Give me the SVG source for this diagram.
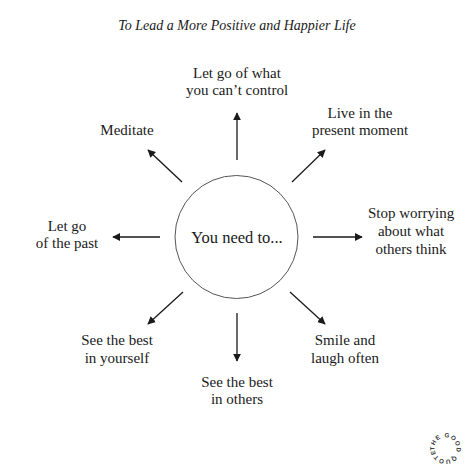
<svg xmlns="http://www.w3.org/2000/svg" width="474" height="474" viewBox="0 0 474 474">
<defs>
<marker id="ah" viewBox="0 0 10 10" refX="9" refY="5" markerWidth="8" markerHeight="8" markerUnits="userSpaceOnUse" orient="auto">
<path d="M0,0 L10,5 L0,10 Z" fill="#1a1a1a"/>
</marker>
<path id="ring" d="M434.67,450.41 A11,11 0 1 1 456.33,446.59 A11,11 0 1 1 434.67,450.41"/>
</defs>
<style>
text{font-family:"Liberation Serif","Times New Roman",serif;fill:#1a1a1a;text-anchor:middle}
.lbl{font-size:15px}
.arr{stroke:#1a1a1a;stroke-width:1.3;fill:none;marker-end:url(#ah)}
</style>
<rect width="474" height="474" fill="#ffffff"/>
<text x="237" y="30" font-size="14" font-style="italic">To Lead a More Positive and Happier Life</text>
<g id="connectors">
<line class="arr" x1="237" y1="160" x2="237" y2="113"/>
<line class="arr" x1="182" y1="182" x2="148" y2="150"/>
<line class="arr" x1="292" y1="182" x2="325" y2="150"/>
<line class="arr" x1="160" y1="237" x2="113" y2="237"/>
<line class="arr" x1="313" y1="237" x2="362" y2="237"/>
<line class="arr" x1="183" y1="292" x2="148" y2="324"/>
<line class="arr" x1="237" y1="313" x2="237" y2="361"/>
<line class="arr" x1="290" y1="292" x2="325" y2="324"/>
</g>
<g id="center">
<circle cx="236.5" cy="237" r="61.5" fill="none" stroke="#555" stroke-width="1"/>
<text x="237" y="243" font-size="16.5">You need to...</text>
</g>
<g id="n-control"><text class="lbl" x="237" y="78">Let go of what</text><text class="lbl" x="237" y="95">you can’t control</text></g>
<g id="n-meditate"><text class="lbl" x="127" y="135">Meditate</text></g>
<g id="n-present"><text class="lbl" x="360" y="118">Live in the</text><text class="lbl" x="360" y="135">present moment</text></g>
<g id="n-past"><text class="lbl" x="67" y="231">Let go</text><text class="lbl" x="67" y="248">of the past</text></g>
<g id="n-worry"><text class="lbl" x="411" y="218">Stop worrying</text><text class="lbl" x="411" y="236">about what</text><text class="lbl" x="411" y="254">others think</text></g>
<g id="n-yourself"><text class="lbl" x="117" y="345">See the best</text><text class="lbl" x="117" y="363">in yourself</text></g>
<g id="n-others"><text class="lbl" x="237" y="387">See the best</text><text class="lbl" x="237" y="404">in others</text></g>
<g id="n-smile"><text class="lbl" x="345" y="345">Smile and</text><text class="lbl" x="345" y="363">laugh often</text></g>
<g id="logo">
<text style="font-family:'Liberation Sans',Arial,sans-serif;text-anchor:start;fill:#333" font-size="6.2" font-weight="bold" letter-spacing="1"><textPath href="#ring">THE GOOD QUOTE</textPath></text>
</g>
</svg>
